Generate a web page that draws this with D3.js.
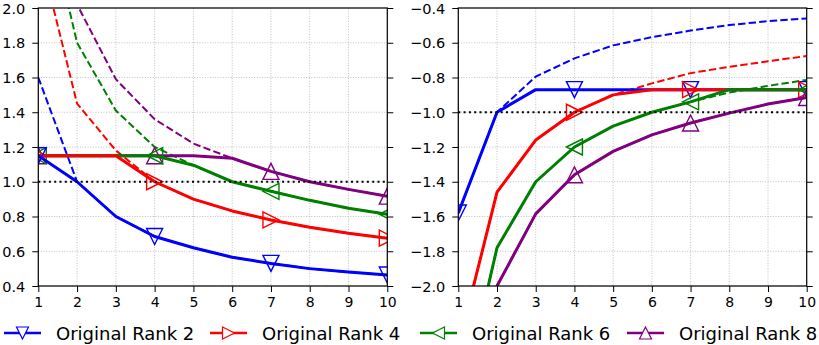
<!DOCTYPE html>
<html>
<head>
<meta charset="utf-8">
<script src="https://cdn.jsdelivr.net/npm/d3@7"></script>
<style>
  html, body { margin: 0; padding: 0; background: #fff; }
  svg { display: block; font-family: "DejaVu Sans", sans-serif; }
</style>
</head>
<body>
<svg id="chart" width="819" height="345"></svg>
<script>
// ---------- data ----------
const xValues = [1, 2, 3, 4, 5, 6, 7, 8, 9, 10];
const seriesNames = ["Original Rank 2", "Original Rank 4", "Original Rank 6", "Original Rank 8"];
const seriesColors = ["#0000ff", "#ff0000", "#008000", "#800080"];
const seriesMarkers = ["down", "right", "left", "up"];
const markerIdx = [0, 3, 6, 9];

const leftYTicks = [0.4, 0.6, 0.8, 1.0, 1.2, 1.4, 1.6, 1.8, 2.0];
const rightYTicks = [-2.0, -1.8, -1.6, -1.4, -1.2, -1.0, -0.8, -0.6, -0.4];
const leftRef = 1.0;
const rightRef = -1.0;

// left panel
const leftSolid2 = [1.15, 1.00, 0.80, 0.685, 0.62, 0.565, 0.53, 0.50, 0.48, 0.463];
const leftSolid4 = [1.15, 1.15, 1.15, 1.00, 0.90, 0.832, 0.78, 0.738, 0.703, 0.675];
const leftSolid6 = [1.15, 1.15, 1.15, 1.15, 1.095, 1.00, 0.945, 0.893, 0.847, 0.813];
const leftSolid8 = [1.15, 1.15, 1.15, 1.15, 1.15, 1.135, 1.06, 1.00, 0.956, 0.917];
const leftDash2 = [1.60, 1.00, 0.80, 0.685, 0.62, 0.565, 0.53, 0.50, 0.48, 0.463];
const leftDash4 = [2.35, 1.45, 1.18, 1.00, 0.90, 0.832, 0.78, 0.738, 0.703, 0.675];
const leftDash6 = [2.75, 1.80, 1.41, 1.20, 1.095, 1.00, 0.945, 0.893, 0.847, 0.813];
const leftDash8 = [3.00, 2.02, 1.59, 1.36, 1.22, 1.135, 1.06, 1.00, 0.956, 0.917];

// right panel
const rightSolid2 = [-1.58, -1.00, -0.87, -0.87, -0.87, -0.87, -0.87, -0.87, -0.87, -0.87];
const rightSolid4 = [-2.35, -1.46, -1.16, -1.00, -0.90, -0.87, -0.87, -0.87, -0.87, -0.87];
const rightSolid6 = [-2.75, -1.78, -1.40, -1.20, -1.08, -1.00, -0.94, -0.87, -0.87, -0.87];
const rightSolid8 = [-3.00, -2.00, -1.585, -1.36, -1.225, -1.13, -1.062, -1.005, -0.953, -0.915];
const rightDash2 = [-1.58, -1.00, -0.795, -0.69, -0.615, -0.568, -0.53, -0.498, -0.476, -0.46];
const rightDash4 = [-2.35, -1.46, -1.16, -1.00, -0.90, -0.834, -0.775, -0.738, -0.707, -0.676];
const rightDash6 = [-2.75, -1.78, -1.40, -1.20, -1.08, -1.00, -0.94, -0.887, -0.848, -0.814];
const rightDash8 = [-3.00, -2.00, -1.585, -1.36, -1.225, -1.13, -1.062, -1.005, -0.953, -0.915];

// ---------- drawing ----------
const svg = d3.select("#chart");
const plotTop = 8, plotBottom = 286;

function markerPath(type, s) {
  const h = s / 2;
  if (type === "down") return `M0,${h}L${-h},${-h}L${h},${-h}Z`;
  if (type === "up") return `M0,${-h}L${-h},${h}L${h},${h}Z`;
  if (type === "right") return `M${h},0L${-h},${-h}L${-h},${h}Z`;
  return `M${-h},0L${h},${-h}L${h},${h}Z`;
}

function drawPanel(id, x0, x1, yDomain, yTicks, solids, dashes, ref, order) {
  const g = svg.append("g");
  const x = d3.scaleLinear().domain([1, 10]).range([x0, x1]);
  const y = d3.scaleLinear().domain(yDomain).range([plotBottom, plotTop]);

  g.append("clipPath").attr("id", id).append("rect")
    .attr("x", x0).attr("y", plotTop).attr("width", x1 - x0).attr("height", plotBottom - plotTop);

  // grid
  const grid = g.append("g").attr("stroke", "#b0b0b0").attr("stroke-width", 0.8)
    .attr("stroke-dasharray", "1,1.6");
  grid.selectAll(".gx").data(xValues).join("line")
    .attr("x1", d => x(d)).attr("x2", d => x(d)).attr("y1", plotTop).attr("y2", plotBottom);
  grid.selectAll(".gy").data(yTicks).join("line")
    .attr("x1", x0).attr("x2", x1).attr("y1", d => y(d)).attr("y2", d => y(d));

  const plot = g.append("g").attr("clip-path", `url(#${id})`);
  const line = d3.line().x((d, i) => x(xValues[i])).y(d => y(d));

  order.forEach(k => {
    plot.append("path").datum(dashes[k]).attr("d", line)
      .attr("fill", "none").attr("stroke", seriesColors[k]).attr("stroke-width", 2)
      .attr("stroke-dasharray", "7.4,3.2");
  });
  order.forEach(k => {
    plot.append("path").datum(solids[k]).attr("d", line)
      .attr("fill", "none").attr("stroke", seriesColors[k]).attr("stroke-width", 3)
      .attr("stroke-linejoin", "round");
    plot.selectAll(null).data(markerIdx).join("path")
      .attr("transform", i => `translate(${x(xValues[i])},${y(solids[k][i])})`)
      .attr("d", markerPath(seriesMarkers[k], 16))
      .attr("fill", "none").attr("stroke", seriesColors[k]).attr("stroke-width", 1.4);
  });

  // reference dotted line
  plot.append("line").attr("x1", x0).attr("x2", x1)
    .attr("y1", y(ref)).attr("y2", y(ref))
    .attr("stroke", "#000").attr("stroke-width", 2).attr("stroke-dasharray", "2,3.3");

  // axes
  const fmt = d3.format(".1f");
  const ax = g.append("g").attr("transform", `translate(${x0},0)`)
    .call(d3.axisLeft(y).tickValues(yTicks).tickFormat(fmt).tickSize(6).tickPadding(7));
  ax.selectAll("text").attr("font-size", "14.5px").attr("dy", "0.36em");
  g.append("g").attr("transform", `translate(${x1},0)`)
    .call(d3.axisRight(y).tickValues(yTicks).tickFormat("").tickSize(6));
  const bx = g.append("g").attr("transform", `translate(0,${plotBottom})`)
    .call(d3.axisBottom(x).tickValues(xValues).tickFormat(d3.format("d")).tickSize(6).tickPadding(5));
  bx.selectAll("text").attr("font-size", "14px");
  g.selectAll(".domain").remove();
  g.selectAll(".tick line").attr("stroke", "#000").attr("stroke-width", 1);
  g.selectAll(".tick text").attr("fill", "#000").attr("font-family", "DejaVu Sans");

  g.append("rect").attr("x", x0).attr("y", plotTop).attr("width", x1 - x0).attr("height", plotBottom - plotTop)
    .attr("fill", "none").attr("stroke", "#000").attr("stroke-width", 1.2);
}

drawPanel("clipL", 38.3, 387.3, [0.4, 2.0], leftYTicks,
  [leftSolid2, leftSolid4, leftSolid6, leftSolid8],
  [leftDash2, leftDash4, leftDash6, leftDash8], leftRef, [3, 2, 1, 0]);
drawPanel("clipR", 458.3, 806.7, [-2.0, -0.4], rightYTicks,
  [rightSolid2, rightSolid4, rightSolid6, rightSolid8],
  [rightDash2, rightDash4, rightDash6, rightDash8], rightRef, [0, 1, 2, 3]);

// legend
const legendX = [4, 210, 420, 627];
const legY = 333;
const leg = svg.append("g");
seriesNames.forEach((name, k) => {
  const lx = legendX[k];
  leg.append("line").attr("x1", lx).attr("x2", lx + 37).attr("y1", legY).attr("y2", legY)
    .attr("stroke", seriesColors[k]).attr("stroke-width", 2.5);
  leg.append("path").attr("transform", `translate(${lx + 18.5},${legY})`)
    .attr("d", markerPath(seriesMarkers[k], 12))
    .attr("fill", "#fff").attr("stroke", seriesColors[k]).attr("stroke-width", 1.2);
  leg.append("text").attr("x", lx + 52).attr("y", legY + 6.5)
    .attr("font-size", "18px").attr("fill", "#000").text(name);
});
</script>
</body>
</html>
